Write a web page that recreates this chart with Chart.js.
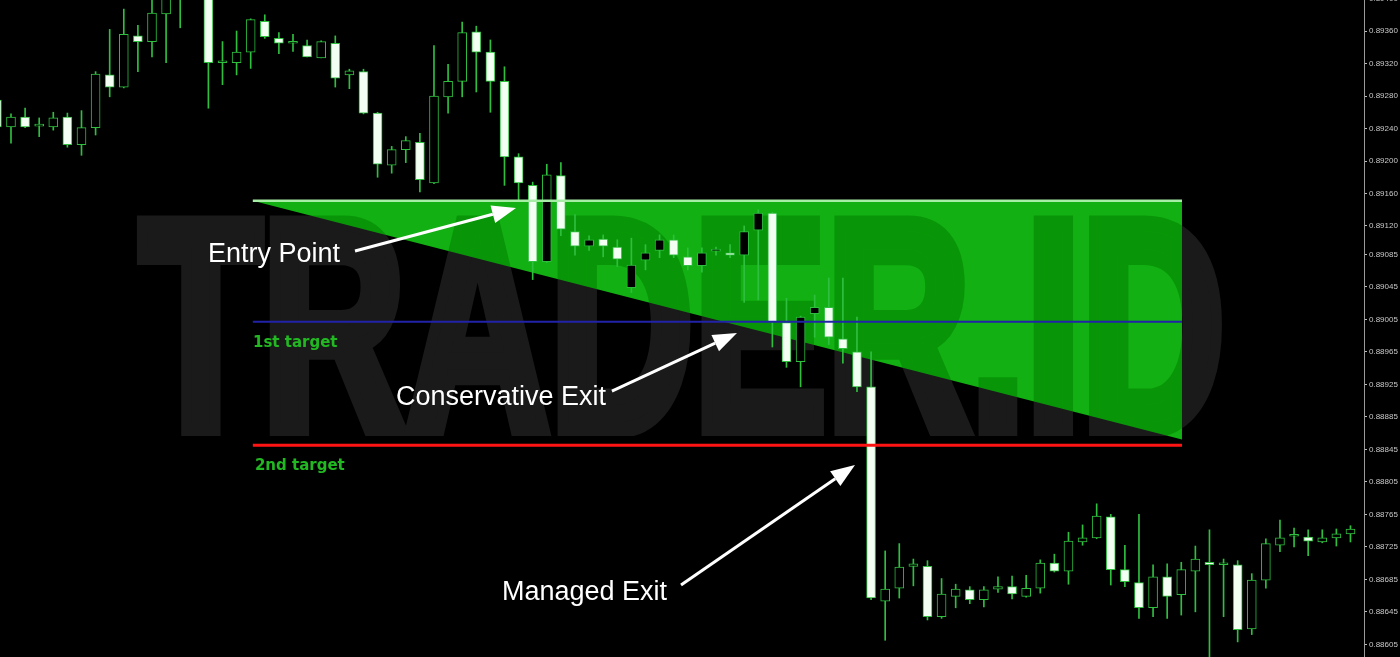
<!DOCTYPE html>
<html>
<head>
<meta charset="utf-8">
<title>EURCHF style trade setup</title>
<script src="https://cdn.jsdelivr.net/npm/chart.js@4.4.0/dist/chart.umd.min.js"></script>
<style>
  html, body { margin: 0; padding: 0; background: #000; }
  #wrap { width: 1400px; height: 657px; position: relative; background: #000; }
</style>
</head>
<body>
<div id="wrap"><canvas id="chart"></canvas></div>
<script>
// candle data (index 0 is the half-hidden bar on the left edge)
const opens = [
  0.89275, 0.89242, 0.89254, 0.89243, 0.89242, 0.89254, 0.89220, 0.89241, 0.89306, 0.89291,
  0.89354, 0.89347, 0.89381, 0.89429, 0.89416, 0.89410, 0.89321, 0.89321, 0.89334, 0.89372,
  0.89351, 0.89345, 0.89342, 0.89327, 0.89345, 0.89306, 0.89310, 0.89259, 0.89195, 0.89214,
  0.89223, 0.89173, 0.89279, 0.89298, 0.89359, 0.89334, 0.89298, 0.89205, 0.89170, 0.89076,
  0.89182, 0.89113, 0.89095, 0.89104, 0.89094, 0.89044, 0.89078, 0.89090, 0.89103, 0.89082,
  0.89071, 0.89089, 0.89087, 0.89084, 0.89115, 0.89136, 0.89001, 0.88953, 0.89012, 0.89020,
  0.88981, 0.88965, 0.88922, 0.88658, 0.88674, 0.88701, 0.88701, 0.88639, 0.88664, 0.88672,
  0.88660, 0.88673, 0.88676, 0.88664, 0.88674, 0.88705, 0.88695, 0.88731, 0.88736, 0.88762,
  0.88697, 0.88681, 0.88650, 0.88688, 0.88666, 0.88695, 0.88706, 0.88703, 0.88703, 0.88624,
  0.88684, 0.88727, 0.88738, 0.88737, 0.88731, 0.88736, 0.88741
];
const highs = [
  0.89279, 0.89258, 0.89265, 0.89253, 0.89260, 0.89259, 0.89262, 0.89310, 0.89362, 0.89387,
  0.89367, 0.89402, 0.89413, 0.89441, 0.89453, 0.89423, 0.89347, 0.89360, 0.89375, 0.89380,
  0.89358, 0.89356, 0.89349, 0.89348, 0.89354, 0.89313, 0.89313, 0.89260, 0.89218, 0.89230,
  0.89234, 0.89342, 0.89319, 0.89371, 0.89366, 0.89349, 0.89316, 0.89209, 0.89174, 0.89196,
  0.89198, 0.89134, 0.89108, 0.89109, 0.89103, 0.89105, 0.89097, 0.89109, 0.89109, 0.89093,
  0.89093, 0.89094, 0.89097, 0.89120, 0.89140, 0.89137, 0.89031, 0.89009, 0.89035, 0.89056,
  0.89056, 0.89008, 0.88965, 0.88720, 0.88729, 0.88710, 0.88708, 0.88686, 0.88679, 0.88676,
  0.88676, 0.88688, 0.88689, 0.88690, 0.88709, 0.88716, 0.88743, 0.88752, 0.88778, 0.88765,
  0.88727, 0.88765, 0.88703, 0.88704, 0.88706, 0.88726, 0.88746, 0.88710, 0.88708, 0.88692,
  0.88735, 0.88758, 0.88748, 0.88746, 0.88746, 0.88747, 0.88751
];
const lows = [
  0.89238, 0.89222, 0.89241, 0.89230, 0.89238, 0.89217, 0.89207, 0.89232, 0.89279, 0.89290,
  0.89310, 0.89328, 0.89321, 0.89364, 0.89404, 0.89265, 0.89294, 0.89306, 0.89314, 0.89351,
  0.89332, 0.89335, 0.89328, 0.89327, 0.89291, 0.89289, 0.89258, 0.89180, 0.89185, 0.89198,
  0.89162, 0.89172, 0.89259, 0.89279, 0.89285, 0.89260, 0.89170, 0.89152, 0.89054, 0.89075,
  0.89108, 0.89084, 0.89090, 0.89082, 0.89070, 0.89038, 0.89066, 0.89081, 0.89081, 0.89066,
  0.89063, 0.89084, 0.89081, 0.89026, 0.89029, 0.88971, 0.88946, 0.88922, 0.88983, 0.88974,
  0.88951, 0.88916, 0.88660, 0.88610, 0.88662, 0.88677, 0.88635, 0.88637, 0.88650, 0.88655,
  0.88651, 0.88669, 0.88661, 0.88663, 0.88668, 0.88694, 0.88679, 0.88727, 0.88735, 0.88678,
  0.88676, 0.88637, 0.88639, 0.88637, 0.88641, 0.88645, 0.88580, 0.88639, 0.88608, 0.88617,
  0.88674, 0.88719, 0.88725, 0.88714, 0.88730, 0.88726, 0.88731
];
const closes = [
  0.89242, 0.89254, 0.89242, 0.89244, 0.89253, 0.89220, 0.89241, 0.89307, 0.89291, 0.89356,
  0.89347, 0.89382, 0.89404, 0.89408, 0.89441, 0.89321, 0.89323, 0.89334, 0.89374, 0.89353,
  0.89345, 0.89346, 0.89328, 0.89347, 0.89302, 0.89311, 0.89259, 0.89196, 0.89214, 0.89225,
  0.89177, 0.89280, 0.89298, 0.89358, 0.89334, 0.89298, 0.89205, 0.89173, 0.89076, 0.89183,
  0.89116, 0.89095, 0.89103, 0.89095, 0.89079, 0.89072, 0.89087, 0.89103, 0.89084, 0.89071,
  0.89087, 0.89090, 0.89084, 0.89113, 0.89136, 0.89002, 0.88953, 0.89008, 0.89020, 0.88983,
  0.88969, 0.88922, 0.88662, 0.88673, 0.88700, 0.88704, 0.88639, 0.88667, 0.88673, 0.88660,
  0.88672, 0.88676, 0.88667, 0.88674, 0.88705, 0.88695, 0.88732, 0.88736, 0.88763, 0.88697,
  0.88682, 0.88650, 0.88688, 0.88664, 0.88697, 0.88710, 0.88703, 0.88704, 0.88623, 0.88684,
  0.88729, 0.88736, 0.88740, 0.88732, 0.88736, 0.88741, 0.88747
];

// price axis labels as printed on the right
const yTicks = [
  0.89400, 0.89360, 0.89320, 0.89280, 0.89240, 0.89200, 0.89160, 0.89120, 0.89085, 0.89045,
  0.89005, 0.88965, 0.88925, 0.88885, 0.88845, 0.88805, 0.88765, 0.88725, 0.88685, 0.88645, 0.88605
];

// trade setup levels
const zoneStart = 18.15;
const zoneEnd = 84.05;
const entryLevel = 0.89151;
const target1Level = 0.89002;
const target2Level = 0.88850;
const zoneEndPrice = 0.88857;

// annotations (bar index, price)
const noteTexts = ['Entry Point', 'Conservative Exit', 'Managed Exit'];
const noteX = [14.97, 28.30, 35.82];
const noteY = [0.890756, 0.888996, 0.886596];
const arrowFromX = [25.40, 43.62, 48.52];
const arrowFromY = [0.890892, 0.889168, 0.886780];
const arrowToX = [36.82, 52.49, 60.86];
const arrowToY = [0.891421, 0.889882, 0.888257];

const targetTexts = ['1st target', '2nd target'];
const targetX = [18.16, 18.30];
const targetY = [0.889710, 0.888196];

const WATERMARK = 'TRADER.ID';

const idx = opens.map((_, i) => i);
const bodies = idx.map((i) => ({ x: i, y: [opens[i], closes[i]] }));
const wicks = idx.map((i) => ({ x: i, y: [lows[i], highs[i]] }));
const isBull = idx.map((i) => closes[i] >= opens[i]);

const GREEN = '#2fbf3f';

function drawArrow(ctx, x1, y1, x2, y2) {
  const ang = Math.atan2(y2 - y1, x2 - x1);
  const head = 24;
  const half = 9;
  const bx = x2 - head * Math.cos(ang);
  const by = y2 - head * Math.sin(ang);
  ctx.lineWidth = 3;
  ctx.strokeStyle = '#ffffff';
  ctx.fillStyle = '#ffffff';
  ctx.beginPath();
  ctx.moveTo(x1, y1);
  ctx.lineTo(bx, by);
  ctx.stroke();
  ctx.beginPath();
  ctx.moveTo(x2, y2);
  ctx.lineTo(bx + half * Math.sin(ang), by - half * Math.cos(ang));
  ctx.lineTo(bx - half * Math.sin(ang), by + half * Math.cos(ang));
  ctx.closePath();
  ctx.fill();
}

// heavy condensed watermark, rendered once off-screen
function watermarkCanvas(w, h) {
  const c = document.createElement('canvas');
  c.width = w;
  c.height = h;
  const g = c.getContext('2d');
  g.fillStyle = '#1a1a1a';
  g.strokeStyle = '#1a1a1a';
  g.lineJoin = 'miter';
  g.font = 'bold 300px "Liberation Sans", Arial, sans-serif';
  const tw = g.measureText(WATERMARK).width;
  g.save();
  g.translate(6, h - 6);
  g.scale((w - 12) / tw, 1);
  g.lineWidth = 16;
  g.fillText(WATERMARK, 0, 0);
  g.strokeText(WATERMARK, 0, 0);
  g.restore();
  return c;
}
let wm = null;

const overlay = {
  id: 'overlay',
  afterDatasetDraw(chart, args) {
    // watermark goes right after the green zone, under the candles
    if (args.index !== 1) return;
    const ctx = chart.ctx;
    const a = chart.chartArea;
    if (!wm) wm = watermarkCanvas(1085 + 12, 227 + 12);
    ctx.save();
    ctx.globalCompositeOperation = 'difference';
    ctx.drawImage(wm, a.left + 140 - 6, a.top + 203 - 6);
    ctx.restore();
  },
  afterDatasetsDraw(chart) {
    const ctx = chart.ctx;
    const xs = chart.scales.x;
    const ys = chart.scales.y;
    ctx.save();
    for (let i = 0; i < arrowFromX.length; i += 1) {
      drawArrow(ctx,
        xs.getPixelForValue(arrowFromX[i]), ys.getPixelForValue(arrowFromY[i]),
        xs.getPixelForValue(arrowToX[i]), ys.getPixelForValue(arrowToY[i]));
    }
    ctx.fillStyle = '#ffffff';
    ctx.textBaseline = 'alphabetic';
    ctx.textAlign = 'left';
    ctx.font = '27px "Liberation Sans", Arial, sans-serif';
    noteTexts.forEach((t, i) => {
      ctx.fillText(t, xs.getPixelForValue(noteX[i]), ys.getPixelForValue(noteY[i]));
    });
    ctx.fillStyle = '#22b822';
    ctx.font = 'bold 15px "DejaVu Sans", sans-serif';
    targetTexts.forEach((t, i) => {
      ctx.fillText(t, xs.getPixelForValue(targetX[i]), ys.getPixelForValue(targetY[i]));
    });
    ctx.restore();
  }
};

const levelLine = (price, color, width) => ({
  type: 'line',
  data: [{ x: zoneStart, y: price }, { x: zoneEnd, y: price }],
  borderColor: color,
  borderWidth: width,
  pointRadius: 0,
  fill: false,
  order: 1
});

new Chart(document.getElementById('chart'), {
  type: 'bar',
  data: {
    datasets: [
      {
        type: 'line',
        data: [{ x: zoneStart, y: entryLevel }, { x: zoneEnd, y: entryLevel }],
        borderWidth: 0,
        borderColor: 'rgba(0,0,0,0)',
        pointRadius: 0,
        fill: false,
        order: 20
      },
      {
        type: 'line',
        data: [{ x: zoneStart, y: entryLevel }, { x: zoneEnd, y: zoneEndPrice }],
        borderWidth: 0,
        borderColor: 'rgba(0,0,0,0)',
        backgroundColor: '#12b012',
        pointRadius: 0,
        fill: 0,
        order: 19
      },
      {
        data: wicks,
        backgroundColor: GREEN,
        borderWidth: 0,
        barThickness: 1,
        grouped: false,
        order: 3
      },
      {
        data: bodies,
        backgroundColor: isBull.map((b) => (b ? '#000000' : '#f2fff2')),
        borderColor: GREEN,
        borderWidth: 1,
        borderSkipped: false,
        barThickness: 9,
        minBarLength: 2,
        grouped: false,
        order: 2
      },
      levelLine(entryLevel, '#a6eea6', 2.5),
      levelLine(target1Level, '#2222a8', 2),
      levelLine(target2Level, '#ff1414', 3)
    ]
  },
  options: {
    responsive: true,
    maintainAspectRatio: false,
    animation: false,
    events: [],
    layout: { padding: 0 },
    plugins: {
      legend: { display: false },
      tooltip: { enabled: false }
    },
    scales: {
      x: {
        type: 'linear',
        display: false,
        offset: false,
        min: 0.22,
        max: 96.96
      },
      y: {
        type: 'linear',
        position: 'right',
        min: 0.885894,
        max: 0.893982,
        afterBuildTicks: (axis) => {
          axis.ticks = yTicks.map((v) => ({ value: v }));
        },
        afterFit: (scale) => {
          scale.width = 36;
          scale.paddingTop = 0;
          scale.paddingBottom = 0;
        },
        ticks: {
          autoSkip: false,
          color: '#c8c8c8',
          padding: 2,
          font: { family: '"Liberation Sans", Arial, sans-serif', size: 8 },
          callback: (v) => Number(v).toFixed(5)
        },
        grid: {
          drawOnChartArea: false,
          drawTicks: true,
          tickLength: 3,
          color: '#bdbdbd'
        },
        border: { display: true, color: '#9a9a9a', width: 1 }
      }
    }
  },
  plugins: [overlay]
});
</script>
</body>
</html>
